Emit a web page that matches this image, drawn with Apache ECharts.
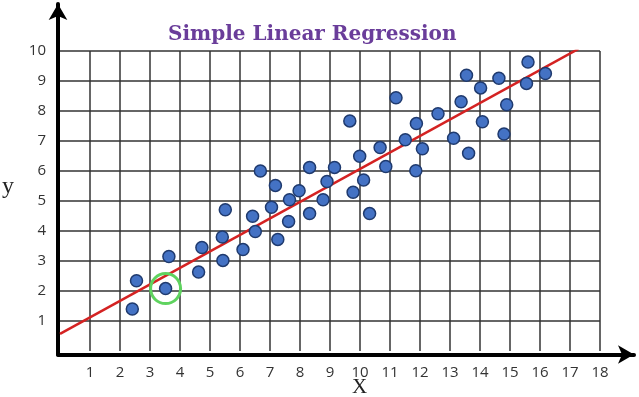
<!DOCTYPE html>
<html>
<head>
<meta charset="utf-8">
<script src="https://cdn.jsdelivr.net/npm/echarts@6/dist/echarts.min.js"></script>
<style>
html, body { margin: 0; padding: 0; background: #fff; }
#main { width: 639px; height: 397px; }
</style>
</head>
<body>
<div id="main"></div>
<script>
// data
var pointX = [2.41, 2.55, 3.52, 3.63, 4.62, 4.73, 5.43, 5.41, 5.51, 6.10,
    6.42, 6.51, 6.68, 7.05, 7.18, 7.26, 7.62, 7.65, 7.97, 8.32,
    8.32, 8.77, 8.90, 9.15, 9.66, 9.77, 9.99, 10.12, 10.32, 10.67,
    10.86, 11.20, 11.51, 11.86, 11.88, 12.08, 12.60, 13.12, 13.37, 13.55,
    13.62, 14.02, 14.08, 14.63, 14.80, 14.89, 15.55, 15.60, 16.18];
var pointY = [1.40, 2.34, 2.08, 3.15, 2.63, 3.45, 3.02, 3.80, 4.71, 3.38,
    4.49, 3.98, 6.00, 4.79, 5.52, 3.72, 4.32, 5.04, 5.34, 4.58,
    6.12, 5.04, 5.65, 6.12, 7.67, 5.29, 6.49, 5.70, 4.58, 6.78,
    6.15, 8.44, 7.04, 6.01, 7.58, 6.74, 7.91, 7.09, 8.31, 9.19,
    6.59, 8.77, 7.64, 9.09, 7.23, 8.21, 8.92, 9.63, 9.25];
var fitLineX = [0, 17.28];
var fitLineY = [0.57, 10.07];
var highlightPoint = [3.52, 2.08];

var myChart = echarts.init(document.getElementById('main'));

var points = pointX.map(function (x, i) { return [x, pointY[i]]; });
var fitLine = fitLineX.map(function (x, i) { return [x, fitLineY[i]]; });

var labelStyle = { fontFamily: 'Open Sans', fontSize: 15, color: '#333' };
var gridLine = { show: true, showMinLine: false, lineStyle: { color: '#333', width: 1.5 } };

option = {
    backgroundColor: '#fff',
    animation: false,
    title: {
        text: 'Simple Linear Regression',
        left: 163,
        top: 20,
        textStyle: {
            fontFamily: 'DejaVu Serif',
            fontWeight: 'bold',
            fontSize: 20,
            color: '#6a3d9a'
        }
    },
    graphic: [
        { type: 'text', left: 352, top: 377, style: { text: 'X', font: '21px "Liberation Serif"', fill: '#222' } },
        { type: 'text', left: 2, top: 175, style: { text: 'y', font: '24px "Liberation Serif"', fill: '#222' } }
    ],
    grid: [
        { left: 60, top: 51, width: 540, height: 300 },
        { left: 58, top: 4, width: 576, bottom: 42.5 }
    ],
    xAxis: [
        {
            gridIndex: 0, type: 'value', min: 0, max: 18, interval: 1,
            axisLine: { show: false }, axisTick: { show: false },
            axisLabel: Object.assign({ margin: 14, formatter: function (v) { return v === 0 ? '' : v; } }, labelStyle),
            splitLine: gridLine
        },
        {
            gridIndex: 1, type: 'value', min: 0, max: 1,
            axisLine: { show: true, onZero: false, symbol: ['none', 'arrow'], symbolSize: [14, 16], lineStyle: { color: '#000', width: 4 } },
            axisTick: { show: false }, axisLabel: { show: false }, splitLine: { show: false }
        }
    ],
    yAxis: [
        {
            gridIndex: 0, type: 'value', min: 0, max: 10, interval: 1,
            axisLine: { show: false }, axisTick: { show: false },
            axisLabel: Object.assign({ margin: 14, formatter: function (v) { return v === 0 ? '' : v; } }, labelStyle),
            splitLine: gridLine
        },
        {
            gridIndex: 1, type: 'value', min: 0, max: 1,
            axisLine: { show: true, onZero: false, symbol: ['none', 'arrow'], symbolSize: [14, 16], lineStyle: { color: '#000', width: 4 } },
            axisTick: { show: false }, axisLabel: { show: false }, splitLine: { show: false }
        }
    ],
    series: [
        {
            name: 'fit',
            type: 'line',
            data: fitLine,
            showSymbol: false,
            lineStyle: { color: '#d42222', width: 2.5 },
            z: 2
        },
        {
            name: 'points',
            type: 'scatter',
            data: points,
            symbolSize: 12,
            itemStyle: { color: '#4472c4', borderColor: '#1f3a6e', borderWidth: 1.5, opacity: 1 },
            z: 3
        },
        {
            name: 'highlight',
            type: 'scatter',
            data: [highlightPoint],
            symbolSize: 30,
            itemStyle: { color: 'rgba(0,0,0,0)', borderColor: '#5fd35f', borderWidth: 3, opacity: 1 },
            z: 4
        }
    ]
};

myChart.setOption(option);
</script>
</body>
</html>
